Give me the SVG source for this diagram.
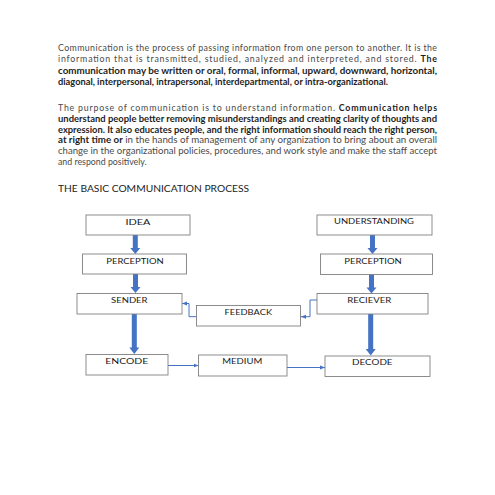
<svg xmlns="http://www.w3.org/2000/svg" width="495" height="495" viewBox="0 0 495 495">
<defs>
<style>
.p{font-family:Lato,"Liberation Sans",sans-serif;font-size:8.8px;fill:#4a4a4a}
.b{font-weight:bold;fill:#1e1e1e}
.t{font-family:Lato,"Liberation Sans",sans-serif;font-size:8.5px;fill:#222}
.box{fill:#fff;stroke:#808080;stroke-width:0.9}
.lbl{font-family:Lato,"Liberation Sans",sans-serif;font-size:8px;fill:#1a1a1a;text-anchor:middle}
.big{fill:#4472c4}
.thin{fill:none;stroke:#4472c4;stroke-width:1}
</style>
<marker id="ah" markerWidth="6" markerHeight="6" refX="5" refY="3" orient="auto" markerUnits="userSpaceOnUse">
<path d="M0,1 L5,3 L0,5 Z" fill="#4472c4"/>
</marker>
</defs>
<rect width="495" height="495" fill="#fff"/>
<g id="text">
<text class="p" x="58" y="51" textLength="379" lengthAdjust="spacing">Communication is the process of passing information from one person to another. It is the</text>
<text class="p" x="58" y="62" textLength="379" lengthAdjust="spacing">information that is transmitted, studied, analyzed and interpreted, and stored. <tspan class="b">The</tspan></text>
<text class="p b" x="58" y="73.5" textLength="379" lengthAdjust="spacingAndGlyphs">communication may be written or oral, formal, informal, upward, downward, horizontal,</text>
<text class="p b" x="58" y="84.5" textLength="330" lengthAdjust="spacingAndGlyphs">diagonal, interpersonal, intrapersonal, interdepartmental, or intra-organizational.</text>
<text class="p" x="58" y="111" textLength="379" lengthAdjust="spacing">The purpose of communication is to understand information. <tspan class="b">Communication helps</tspan></text>
<text class="p b" x="58" y="121.8" textLength="379" lengthAdjust="spacingAndGlyphs">understand people better removing misunderstandings and creating clarity of thoughts and</text>
<text class="p b" x="58" y="132.6" textLength="379" lengthAdjust="spacingAndGlyphs">expression. It also educates people, and the right information should reach the right person,</text>
<text class="p" x="58" y="143.4" textLength="379" lengthAdjust="spacingAndGlyphs"><tspan class="b">at right time or</tspan> in the hands of management of any organization to bring about an overall</text>
<text class="p" x="58" y="154.2" textLength="379" lengthAdjust="spacingAndGlyphs">change in the organizational policies, procedures, and work style and make the staff accept</text>
<text class="p" x="58" y="165">and respond positively.</text>
<text class="t" x="58" y="191.8" textLength="191" lengthAdjust="spacingAndGlyphs">THE BASIC COMMUNICATION PROCESS</text>
</g>
<g id="connectors">
<polygon class="big" points="132.8,235 137.8,235 137.8,248 140.3,248 135.3,254 130.3,248 132.8,248"/>
<polygon class="big" points="133,274 138,274 138,287 140.5,287 135.5,293 130.5,287 133,287"/>
<polygon class="big" points="131.8,314 136.8,314 136.8,347.5 139.3,347.5 134.3,354 129.3,347.5 131.8,347.5"/>
<polygon class="big" points="370,235 375,235 375,248 377.5,248 372.5,254 367.5,248 370,248"/>
<polygon class="big" points="369,274.5 374,274.5 374,287.5 376.5,287.5 371.5,293.5 366.5,287.5 369,287.5"/>
<polygon class="big" points="368.2,314 373.2,314 373.2,349 375.7,349 370.7,355.5 365.7,349 368.2,349"/>
<polyline class="thin" points="196.5,316.7 189,316.7 189,303.5 182,303.5" marker-end="url(#ah)"/>
<polyline class="thin" points="317,300 310,300 310,316.7 301,316.7" marker-end="url(#ah)"/>
<line class="thin" x1="168" y1="365.5" x2="198.5" y2="365.5" marker-end="url(#ah)"/>
<line class="thin" x1="287" y1="367.5" x2="325" y2="367.5" marker-end="url(#ah)"/>
</g>
<g id="idea"><rect class="box" x="86" y="215" width="104" height="20"/><text class="lbl" x="138" y="225.3" textLength="25" lengthAdjust="spacingAndGlyphs">IDEA</text></g>
<g id="understanding"><rect class="box" x="317" y="215" width="115" height="20"/><text class="lbl" x="374" y="223.8" textLength="80" lengthAdjust="spacingAndGlyphs">UNDERSTANDING</text></g>
<g id="perception-left"><rect class="box" x="82.5" y="254" width="104" height="20"/><text class="lbl" x="135" y="263.6" textLength="57.5" lengthAdjust="spacingAndGlyphs">PERCEPTION</text></g>
<g id="perception-right"><rect class="box" x="320.5" y="254" width="112" height="20.5"/><text class="lbl" x="373" y="263.6" textLength="57.5" lengthAdjust="spacingAndGlyphs">PERCEPTION</text></g>
<g id="sender"><rect class="box" x="77" y="293.5" width="105" height="20.5"/><text class="lbl" x="129.3" y="302.6" textLength="36.5" lengthAdjust="spacingAndGlyphs">SENDER</text></g>
<g id="reciever"><rect class="box" x="317" y="293.5" width="111" height="20.5"/><text class="lbl" x="369.3" y="302.6" textLength="44" lengthAdjust="spacingAndGlyphs">RECIEVER</text></g>
<g id="feedback"><rect class="box" x="196.5" y="305.5" width="104" height="20.5"/><text class="lbl" x="248.3" y="315.2" textLength="47.5" lengthAdjust="spacingAndGlyphs">FEEDBACK</text></g>
<g id="encode"><rect class="box" x="86" y="354.5" width="82" height="20.5"/><text class="lbl" x="126.7" y="363.6" textLength="43" lengthAdjust="spacingAndGlyphs">ENCODE</text></g>
<g id="medium"><rect class="box" x="198.5" y="355" width="88.5" height="21"/><text class="lbl" x="242.3" y="363.6" textLength="40" lengthAdjust="spacingAndGlyphs">MEDIUM</text></g>
<g id="decode"><rect class="box" x="325" y="356" width="105" height="20.5"/><text class="lbl" x="372.3" y="365" textLength="40.5" lengthAdjust="spacingAndGlyphs">DECODE</text></g>
</svg>
